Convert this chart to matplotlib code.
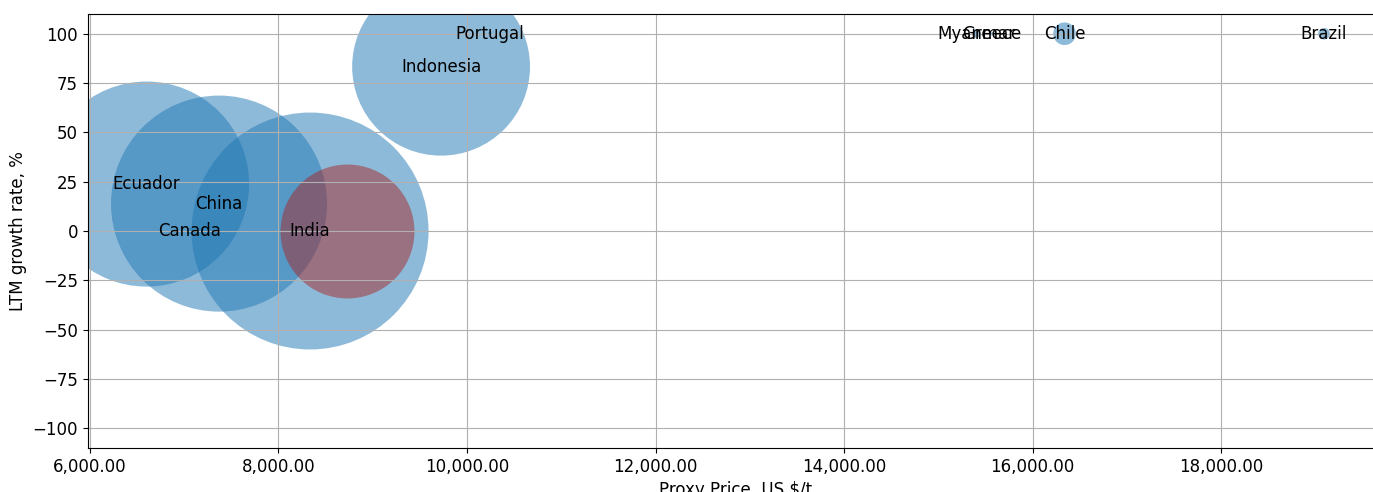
import matplotlib
matplotlib.use("Agg")
import matplotlib.pyplot as plt
from matplotlib.ticker import FuncFormatter

countries = ["Ecuador", "China", "Canada", "India", "Indonesia", "Portugal",
             "Myanmar", "Greece", "Chile", "Brazil"]
price = [6600, 7369, 7061, 8335, 9725, 10244, 15406, 15571, 16340, 19093]
growth = [23.8, 13.9, 0, 0, 83.3, 100, 100, 100, 100, 100]
sizes = [21800, 24200, 19, 29100, 16400, 8, 35, 5, 265, 70]

# highlighted bubble
hl_price = [8727]
hl_growth = [0]
hl_size = [9300]

plt.rcParams['font.size'] = 12
fig = plt.figure(figsize=(13.73, 4.92), dpi=100)
ax = fig.add_axes([0.0639, 0.0894, 0.9434, 0.8821])

ax.scatter(price, growth, s=sizes, color='tab:blue', alpha=0.5, linewidths=0)
ax.scatter(hl_price, hl_growth, s=hl_size, color='brown', alpha=0.5, linewidths=0)

for name, x, y in zip(countries, price, growth):
    ax.text(x, y, name, ha='center', va='center', fontsize=12)

ax.set_xlim(5976, 19719)
ax.set_ylim(-110, 110)
ax.set_xticks([6000, 8000, 10000, 12000, 14000, 16000, 18000])
ax.set_yticks([-100, -75, -50, -25, 0, 25, 50, 75, 100])
ax.xaxis.set_major_formatter(FuncFormatter(lambda v, p: f"{v:,.2f}"))
ax.grid(True)
ax.spines['right'].set_visible(False)
ax.set_xlabel("Proxy Price, US $/t")
ax.set_ylabel("LTM growth rate, %")

fig.savefig("out.png", dpi=100)
